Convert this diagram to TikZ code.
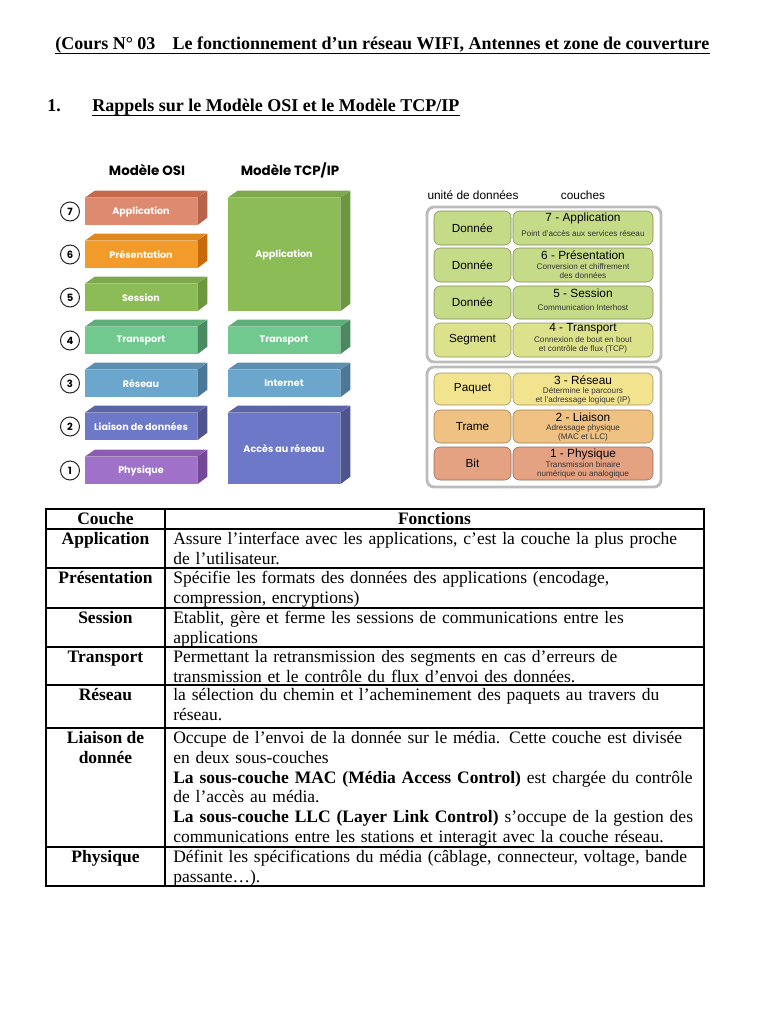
\documentclass[tikz,border=0pt]{standalone}
\usepackage{fontspec}
\setmainfont{Liberation Serif}
\newfontfamily\popfont{Poppins}
\newfontfamily\arialfont{Liberation Sans}
\usetikzlibrary{positioning}

\definecolor{layF7}{HTML}{DE8A70}\definecolor{layT7}{HTML}{C8694C}\definecolor{layS7}{HTML}{B7624A}
\definecolor{layF6}{HTML}{F29B2A}\definecolor{layT6}{HTML}{E0891C}\definecolor{layS6}{HTML}{C86A0A}
\definecolor{layF5}{HTML}{8BBC56}\definecolor{layT5}{HTML}{7DA84C}\definecolor{layS5}{HTML}{6C963F}
\definecolor{layF4}{HTML}{72C98F}\definecolor{layT4}{HTML}{5DAE78}\definecolor{layS4}{HTML}{4B8A60}
\definecolor{layF3}{HTML}{6BA6CC}\definecolor{layT3}{HTML}{5C8FB0}\definecolor{layS3}{HTML}{4A7896}
\definecolor{layF2}{HTML}{6E78C8}\definecolor{layT2}{HTML}{5C64A8}\definecolor{layS2}{HTML}{4E558E}
\definecolor{layF1}{HTML}{A071C9}\definecolor{layT1}{HTML}{8B5DB2}\definecolor{layS1}{HTML}{744896}
\definecolor{rowA}{HTML}{C6DB87}
\definecolor{rowB}{HTML}{DCE28C}
\definecolor{rowC}{HTML}{F2E48F}
\definecolor{rowD}{HTML}{EFC283}
\definecolor{rowE}{HTML}{E5A283}
\definecolor{framegray}{HTML}{BCBCBC}

\tikzset{
  cube/.style={minimum width=78.4pt,inner sep=0pt,text=white,font=\popfont\bfseries\fontsize{6.7}{8}\selectfont},
  numcirc/.style={circle,draw=black!85,line width=0.7pt,minimum size=13.3pt,inner sep=0pt,font=\popfont\bfseries\fontsize{7}{8}\selectfont},
  groupframe/.style={draw=framegray,line width=2pt,rounded corners=5pt,fill=white},
  unitbox/.style={rounded corners=4.5pt,minimum width=53.9pt,inner sep=0pt,font=\arialfont\fontsize{8.2}{9}\selectfont},
  laybox/.style={rounded corners=4.5pt,minimum width=98pt,inner sep=0pt},
  laytitle/.style={inner sep=0pt,font=\arialfont\fontsize{8.3}{9}\selectfont},
  laysub/.style={inner sep=0pt,align=center,text=black!80,font=\arialfont\fontsize{5.7}{6.5}\selectfont},
  fcell/.style={anchor=north west,inner sep=0pt,text width=400pt,align=left,font=\fontsize{12.25}{13.8}\selectfont},
  couche/.style={anchor=north,inner sep=0pt,align=center,font=\bfseries\fontsize{12.25}{13.8}\selectfont},
  headline/.style={anchor=base west,inner sep=0pt,font=\bfseries\fontsize{12.6}{14}\selectfont},
}

\begin{document}
\begin{tikzpicture}[x=0.7pt,y=-0.7pt]
\fill[white] (0,0) rectangle (768,1024);
\useasboundingbox (0,0) rectangle (768,1024);

\node[headline] (title) at (55,49) {(Cours N° 03\hspace{12pt}Le fonctionnement d’un réseau WIFI, Antennes et zone de couverture};
\draw[line width=0.7pt] ([yshift=-2.8pt]title.base west) -- ([yshift=-2.8pt]title.base east);
\node[headline] (secnum) at (47,111) {1.};
\node[headline] (sectitle) at (92,111) {Rappels sur le Modèle OSI et le Modèle TCP/IP};
\draw[line width=0.7pt] ([yshift=-3.3pt]sectitle.base west) -- ([yshift=-3.3pt]sectitle.base east);

% OSI / TCP-IP
\node[font=\popfont\bfseries\fontsize{9.4}{11}\selectfont] (osihead) at (147,170) {Modèle OSI};
\node[font=\popfont\bfseries\fontsize{9.4}{11}\selectfont] (tcphead) at (290,170) {Modèle TCP/IP};
\foreach \n/\yt/\lbl in {7/198/Application,6/241/Présentation,5/284/Session,4/327/Transport,
    3/370/Réseau,2/413/Liaison de données,1/457/Physique}{
  \node[cube,fill=layF\n,minimum height=18.9pt] (osi\n) at (141,\yt+13.5) {\lbl};
  \fill[layT\n] (osi\n.north west) -- ++(10,-7) -- ++(112,0) -- (osi\n.north east) -- cycle;
  \fill[layS\n] (osi\n.north east) -- ++(10,-7) -- ++(0,27) -- (osi\n.south east) -- cycle;
  \node[numcirc] (num\n) at (70,\yt+13.5) {\n};
}
\foreach \c/\yt/\h/\lbl in {5/198/113/Application,4/327/27/Transport,3/370/27/Internet,2/413/71/Accès au réseau}{
  \node[cube,fill=layF\c,minimum height={\h*0.7pt}] (tcp\c) at (284,\yt+\h/2) {\lbl};
  \fill[layT\c] (tcp\c.north west) -- ++(10,-7) -- ++(112,0) -- (tcp\c.north east) -- cycle;
  \fill[layS\c] (tcp\c.north east) -- ++(10,-7) -- ++(0,\h) -- (tcp\c.south east) -- cycle;
}

% unites et couches
\node[font=\arialfont\fontsize{8.3}{9}\selectfont] (unithead) at (473,195) {unité de données};
\node[font=\arialfont\fontsize{8.3}{9}\selectfont] (layhead) at (583,195) {couches};
\draw[groupframe] (427,207) rectangle (661,362);
\draw[groupframe] (427,367) rectangle (661,487);
\foreach \n/\yt/\yb/\col/\unit/\yttl/\ysub/\sub in {
    7/211/245/rowA/Donnée/218.5/233.5/{Point d’accès aux services réseau},
    6/248/282/rowA/Donnée/255.5/271/{Conversion et chiffrement\\des données},
    5/286/319/rowA/Donnée/293.5/308/{Communication Interhost},
    4/323/357/rowB/Segment/328.5/345/{Connexion de bout en bout\\et contrôle de flux (TCP)},
    3/373/405/rowC/Paquet/380.5/396/{Détermine le parcours\\et l’adressage logique (IP)},
    2/410/443/rowD/Trame/417.5/433/{Adressage physique\\(MAC et LLC)},
    1/447/480/rowE/Bit/454.5/470/{Transmission binaire\\numérique ou analogique}}{
  \node[unitbox,fill=\col,draw=\col!65!black,minimum height={(\yb-\yt)*0.7pt}] (unit\n) at (472.5,{(\yt+\yb)/2}) {\unit};
  \node[laybox,fill=\col,draw=\col!65!black,minimum height={(\yb-\yt)*0.7pt}] (lay\n) at (583,{(\yt+\yb)/2}) {};
  \node[laytitle] (ttl\n) at (583,\yttl) {\n\ - \ifcase\n\or Physique\or Liaison\or Réseau\or Transport\or Session\or Présentation\or Application\fi};
  \node[laysub] (sub\n) at (583,\ysub) {\sub};
}

% tableau
\draw[line width=0.8pt] (46,509) rectangle (704,886);
\draw[line width=0.8pt] (165,509) -- (165,886);
\foreach \y in {529,568,608,647,685,728,847}
  \draw[line width=0.8pt] (46,\y) -- (704,\y);
\node[couche] (hCouche) at (105.5,510.7) {\strut Couche};
\node[couche] (hFonc) at (434.5,510.7) {\strut Fonctions};
\node[couche] (kApp) at (105.5,530.7) {\strut Application};
\node[fcell] (fApp) at (173,530.7) {\strut Assure l’interface avec les applications, c’est la couche la plus proche\\de l’utilisateur.};
\node[couche] (kPres) at (105.5,569.7) {\strut Présentation};
\node[fcell] (fPres) at (173,569.7) {\strut Spécifie les formats des données des applications (encodage,\\compression, encryptions)};
\node[couche] (kSes) at (105.5,609.7) {\strut Session};
\node[fcell] (fSes) at (173,609.7) {\strut Etablit, gère et ferme les sessions de communications entre les\\applications};
\node[couche] (kTra) at (105.5,648.5) {\strut Transport};
\node[fcell] (fTra) at (173,648.5) {\strut Permettant la retransmission des segments en cas d’erreurs de\\transmission et le contrôle du flux d’envoi des données.};
\node[couche] (kRes) at (105.5,686.7) {\strut Réseau};
\node[fcell] (fRes) at (173,686.7) {\strut la sélection du chemin et l’acheminement des paquets au travers du\\réseau.};
\node[couche] (kLia) at (105.5,729.7) {\strut Liaison de\\donnée};
\node[fcell] (fLia) at (173,729.7) {\strut Occupe de l’envoi de la donnée sur le média. Cette couche est divisée\\en deux sous-couches\\\textbf{La sous-couche MAC (Média Access Control)} est chargée du contrôle\\de l’accès au média.\\\textbf{La sous-couche LLC (Layer Link Control)} s’occupe de la gestion des\\communications entre les stations et interagit avec la couche réseau.};
\node[couche] (kPhy) at (105.5,848.7) {\strut Physique};
\node[fcell] (fPhy) at (173,848.7) {\strut Définit les spécifications du média (câblage, connecteur, voltage, bande\\passante…).};
\end{tikzpicture}
\end{document}
